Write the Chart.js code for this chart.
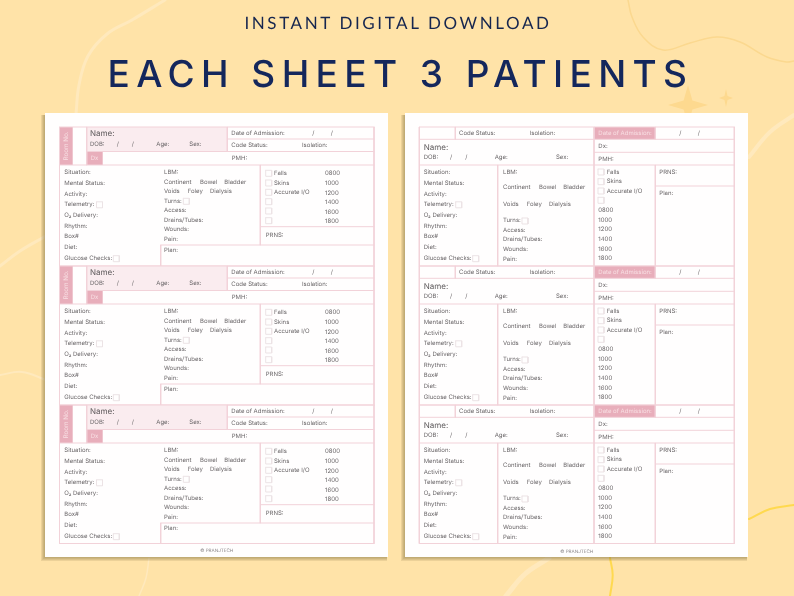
<!DOCTYPE html>
<html>
<head>
<meta charset="utf-8">
<title>Each sheet 3 patients</title>
<style>
  html, body { margin: 0; padding: 0; background: #ffe3a8; }
  canvas { display: block; filter: blur(0.3px); }
</style>
<script src="https://cdn.jsdelivr.net/npm/chart.js@4/dist/chart.umd.min.js"></script>
</head>
<body>
<canvas id="sheet" width="794" height="596"></canvas>
<script>
// Text of the form
const subHeading = "INSTANT DIGITAL DOWNLOAD";
const heading = "EACH SHEET 3 PATIENTS";
const footerText = "© PRANJTECH";
const situationLabels = ["Situation:", "Mental Status:", "Activity:", "Telemetry:", "O₂ Delivery:", "Rhythm:", "Box#", "Diet:", "Glucose Checks:"];
const lbmLabels = ["LBM:", "Continent", "Voids", "Turns:", "Access:", "Drains/Tubes:", "Wounds:", "Pain:"];
const lbmExtraLabels = ["Bowel", "Bladder", "Foley", "Dialysis"];
const checkLabels = ["Falls", "Skins", "Accurate I/O", "", "", ""];
const timeLabels = ["0800", "1000", "1200", "1400", "1600", "1800"];

// Where things sit, in axis units (the axes run 0-794 and 0-596)
const blockTops = [127, 266, 405];
const situationRows = [45.3, 56, 67, 77.7, 88.3, 99, 109.7, 120.3, 131.3];
const leftLbmRows = [45.3, 55, 64.3, 74, 83.7, 93, 102.7, 112.3];
const rightLbmRows = [45.7, 60, 77, 93.7, 103.3, 112.7, 122.3, 132];
const leftCheckRows = [46.3, 56, 65.3, 74.7, 84, 93.7];
const leftTimeRows = [46.7, 56.3, 66, 75.3, 85, 94.7];
const rightCheckRows = [45, 54.7, 64, 73.3];
const rightTimeRows = [83.7, 93.3, 102.7, 112.3, 122, 131.7];

// Background decoration curves
const paleCurveTop = [[165, 0], [132, 20], [107, 34], [88, 56], [79, 85], [76, 114]];
const paleArcLeft = [[0, 266], [20, 251], [46, 236]];
const paleArcLower = [[0, 375], [22, 372], [46, 380]];
const paleStubBottom = [[149, 558], [146, 578], [139, 596]];
const paleStubWide = [[549, 558], [525, 574], [506, 596]];
const paleCurveRight = [[749, 157], [770, 132], [794, 115]];
const goldCurveTop = [[628, 0], [632, 17], [643, 37], [663, 50], [690, 43], [717, 37], [740, 42], [767, 57], [787, 62], [794, 61]];
const yellowStubBottom = [[610, 558], [612.7, 575], [610, 596]];
const yellowStubRight = [[749, 519], [770, 509], [794, 505]];

const lineColor = "#f2d2d9";
const pinkFill = "#e8aebb";
const paleFill = "#faecef";
const boxColor = "#ece3e5";
const inkColor = "#6a6668";
const paleCurve = "#ffe9bd";

const layers = [];
const textMarks = [];

function path(points, color, width, smooth) {
  layers.push({
    data: points.map(p => ({ x: p[0], y: p[1] })),
    borderColor: color,
    borderWidth: width,
    borderCapStyle: "round",
    tension: smooth ? 0.4 : 0,
    pointRadius: 0,
    fill: false
  });
}

function polygon(points, color) {
  layers.push({
    data: points.map(p => ({ x: p[0], y: p[1] })),
    backgroundColor: color,
    borderWidth: 0,
    pointRadius: 0,
    tension: 0,
    fill: "shape"
  });
}

function rect(x1, y1, x2, y2, color) {
  polygon([[x1, y1], [x2, y1], [x2, y2], [x1, y2]], color);
}

function star(cx, cy, rx, ry, color) {
  const kx = rx * 0.22, ky = ry * 0.22;
  polygon([[cx, cy - ry], [cx + kx, cy - ky], [cx + rx, cy], [cx + kx, cy + ky], [cx, cy + ry], [cx - kx, cy + ky], [cx - rx, cy], [cx - kx, cy - ky]], color);
}

function hLine(x1, x2, y) { path([[x1, y], [x2, y]], lineColor, 1); }
function vLine(x, y1, y2) { path([[x, y1], [x, y2]], lineColor, 1); }

function checkBox(x, y) {
  path([[x - 3, y - 3], [x + 3, y - 3], [x + 3, y + 3], [x - 3, y + 3], [x - 3, y - 3]], boxColor, 1);
}

function label(text, x, y, opts) {
  textMarks.push(Object.assign({ text, x, y, size: 6, color: inkColor, weight: 400, spacing: 0 }, opts));
}

function page(x1, y1, x2, y2) {
  [4, 3, 2, 1].forEach(g => rect(x1 - g, y1 + 2, x2 - 1, y2 + g, "rgba(110,90,50,0.13)"));
  rect(x1, y1, x2, y2, "#fffefe");
}

function leftBlock(top, height) {
  const d = top - 127;
  const bottom = top + height;
  rect(59.5, top, 72.7, top + 38, pinkFill);
  rect(86.7, top, 227.3, top + 24.5, paleFill);
  rect(86.7, top + 24.5, 102.7, top + 38, pinkFill);

  hLine(59.5, 374, top);
  hLine(227.3, 374, top + 12);
  hLine(86.7, 374, top + 24.5);
  hLine(59.5, 374, top + 38);
  hLine(260.3, 374, top + 99.7);
  hLine(160.7, 374, top + 118);
  hLine(59.5, 374, bottom);
  vLine(59.5, top, bottom);
  vLine(374, top, bottom);
  vLine(86.7, top, top + 38);
  vLine(227.3, top, top + 24.5);
  vLine(160.7, top + 118, bottom);
  vLine(260.3, top + 38, top + 118);

  label("Room No.", 66, top + 19, { color: "#f8dfe3", rotate: true, size: 6.3 });
  label("Name:", 90, 133.7 + d, { size: 8, color: "#5c585a" });
  label("DOB:", 90, 144.3 + d);
  label("/", 116.7, 144.3 + d);
  label("/", 131.7, 144.3 + d);
  label("Age:", 156.3, 144.3 + d);
  label("Sex:", 189.3, 144.3 + d);
  label("Dx", 90.7, 158.3 + d, { color: "#f8dfe3" });
  label("Date of Admission:", 231.3, 133.3 + d);
  label("/", 312.3, 133.3 + d);
  label("/", 330.7, 133.3 + d);
  label("Code Status:", 231.3, 145.3 + d);
  label("Isolation:", 302, 145.3 + d);
  label("PMH:", 231.7, 158.7 + d);

  situationLabels.forEach((t, i) => label(t, 64.3, top + situationRows[i]));
  checkBox(99.5, top + 77.8);
  checkBox(116.3, top + 131.7);

  lbmLabels.forEach((t, i) => label(t, 164, top + leftLbmRows[i]));
  label(lbmExtraLabels[0], 200, top + leftLbmRows[1]);
  label(lbmExtraLabels[1], 224.3, top + leftLbmRows[1]);
  label(lbmExtraLabels[2], 187.7, top + leftLbmRows[2]);
  label(lbmExtraLabels[3], 210, top + leftLbmRows[2]);
  checkBox(186.3, top + 74.3);
  label("Plan:", 164, top + 123.7);

  checkLabels.forEach((t, i) => {
    checkBox(268.7, top + leftCheckRows[i]);
    if (t) label(t, 274, top + leftCheckRows[i]);
  });
  timeLabels.forEach((t, i) => label(t, 325, top + leftTimeRows[i]));
  label("PRNS:", 265.7, top + 108.7);
}

function rightBlock(top, height) {
  const d = top - 127;
  const bottom = top + height;
  rect(594, top, 655.3, top + 12.3, pinkFill);

  hLine(419.3, 734.3, top);
  hLine(419.3, 734.3, top + 12.3);
  hLine(594, 734.3, top + 25.3);
  hLine(419.3, 734.3, top + 38);
  hLine(655.3, 734.3, top + 59);
  hLine(419.3, 734.3, bottom);
  vLine(419.3, top, bottom);
  vLine(734.3, top, bottom);
  vLine(455.3, top, top + 12.3);
  vLine(594, top, bottom);
  vLine(655.3, top, top + 12.3);
  vLine(655.3, top + 38, bottom);
  vLine(497.7, top + 38, bottom);

  label("Code Status:", 459, 133 + d);
  label("Isolation:", 529.7, 133 + d);
  label("Date of Admission:", 598.3, 133 + d, { color: "#f8dfe3" });
  label("/", 679.3, 133 + d);
  label("/", 697.7, 133 + d);
  label("Name:", 423.7, 147.3 + d, { size: 8, color: "#5c585a" });
  label("DOB:", 423.7, 157.7 + d);
  label("/", 450, 157.7 + d);
  label("/", 465.3, 157.7 + d);
  label("Age:", 494.7, 157.7 + d);
  label("Sex:", 556, 157.7 + d);
  label("Dx:", 598.3, 146 + d);
  label("PMH:", 598.3, 159.3 + d);

  situationLabels.forEach((t, i) => label(t, 423.7, top + situationRows[i]));
  checkBox(458.7, top + 77.8);
  checkBox(475.7, top + 131.7);

  lbmLabels.forEach((t, i) => label(t, 503, top + rightLbmRows[i]));
  label(lbmExtraLabels[0], 539, top + rightLbmRows[1]);
  label(lbmExtraLabels[1], 563.3, top + rightLbmRows[1]);
  label(lbmExtraLabels[2], 526.7, top + rightLbmRows[2]);
  label(lbmExtraLabels[3], 549, top + rightLbmRows[2]);
  checkBox(525, top + 94);

  rightCheckRows.forEach((y, i) => {
    checkBox(601, top + y);
    if (checkLabels[i]) label(checkLabels[i], 606.7, top + y);
  });
  timeLabels.forEach((t, i) => label(t, 598.3, top + rightTimeRows[i]));
  label("PRNS:", 659.3, top + 45);
  label("Plan:", 659.3, top + 66.7);
}

// Background
path(paleCurveTop, paleCurve, 3, true);
path(paleArcLeft, paleCurve, 3, true);
path(paleArcLower, paleCurve, 2, true);
path(paleStubBottom, paleCurve, 1.5, true);
path(paleStubWide, paleCurve, 5, true);
path(paleCurveRight, paleCurve, 4, true);
path(goldCurveTop, "#fbd88f", 1.5, true);
path(yellowStubBottom, "#ffd94f", 2, true);
path(yellowStubRight, "#ffd94f", 2, true);
star(688, 105, 20, 20, "#fdd98f");
star(726, 98, 7, 9, "#fdd98f");

// Sheets
page(45, 113, 388, 557);
page(405, 113, 748, 557);
blockTops.forEach((t, i) => leftBlock(t, i === 2 ? 138.5 : 139));
blockTops.forEach((t, i) => rightBlock(t, i === 2 ? 138.5 : 139));

label(footerText, 216.7, 551, { size: 4.6, color: "#8b8789", align: "center" });
label(footerText, 576.7, 551.7, { size: 4.6, color: "#8b8789", align: "center" });

label(subHeading, 398, 23.5, { size: 17, color: "#16264f", align: "center", spacing: 2.6, family: "Lato" });
label(heading, 400.5, 75.5, { size: 37, color: "#14275c", align: "center", spacing: 6.4, weight: 500 });

// Writes the labels through the chart's own scales
const formText = {
  id: "formText",
  afterDatasetsDraw(chart) {
    const { ctx, scales } = chart;
    textMarks.forEach(m => {
      ctx.save();
      ctx.translate(scales.x.getPixelForValue(m.x), scales.y.getPixelForValue(m.y));
      if (m.rotate) ctx.rotate(-Math.PI / 2);
      ctx.font = m.weight + " " + m.size + "px " + (m.family || "Inter") + ", sans-serif";
      ctx.letterSpacing = m.spacing + "px";
      ctx.textRendering = "geometricPrecision";
      ctx.textAlign = m.rotate ? "center" : (m.align || "left");
      ctx.textBaseline = "middle";
      ctx.fillStyle = m.color;
      ctx.fillText(m.text, 0, 0);
      ctx.restore();
    });
  }
};

// chart js draws the last dataset first, so flip the list
new Chart(document.getElementById("sheet"), {
  type: "line",
  data: { datasets: layers.slice().reverse() },
  options: {
    responsive: false,
    animation: false,
    events: [],
    layout: { padding: 0 },
    plugins: {
      legend: { display: false },
      tooltip: { enabled: false },
      title: { display: false }
    },
    scales: {
      x: { type: "linear", min: 0, max: 794, display: false },
      y: { type: "linear", min: 0, max: 596, reverse: true, display: false }
    }
  },
  plugins: [formText]
});
</script>
</body>
</html>
